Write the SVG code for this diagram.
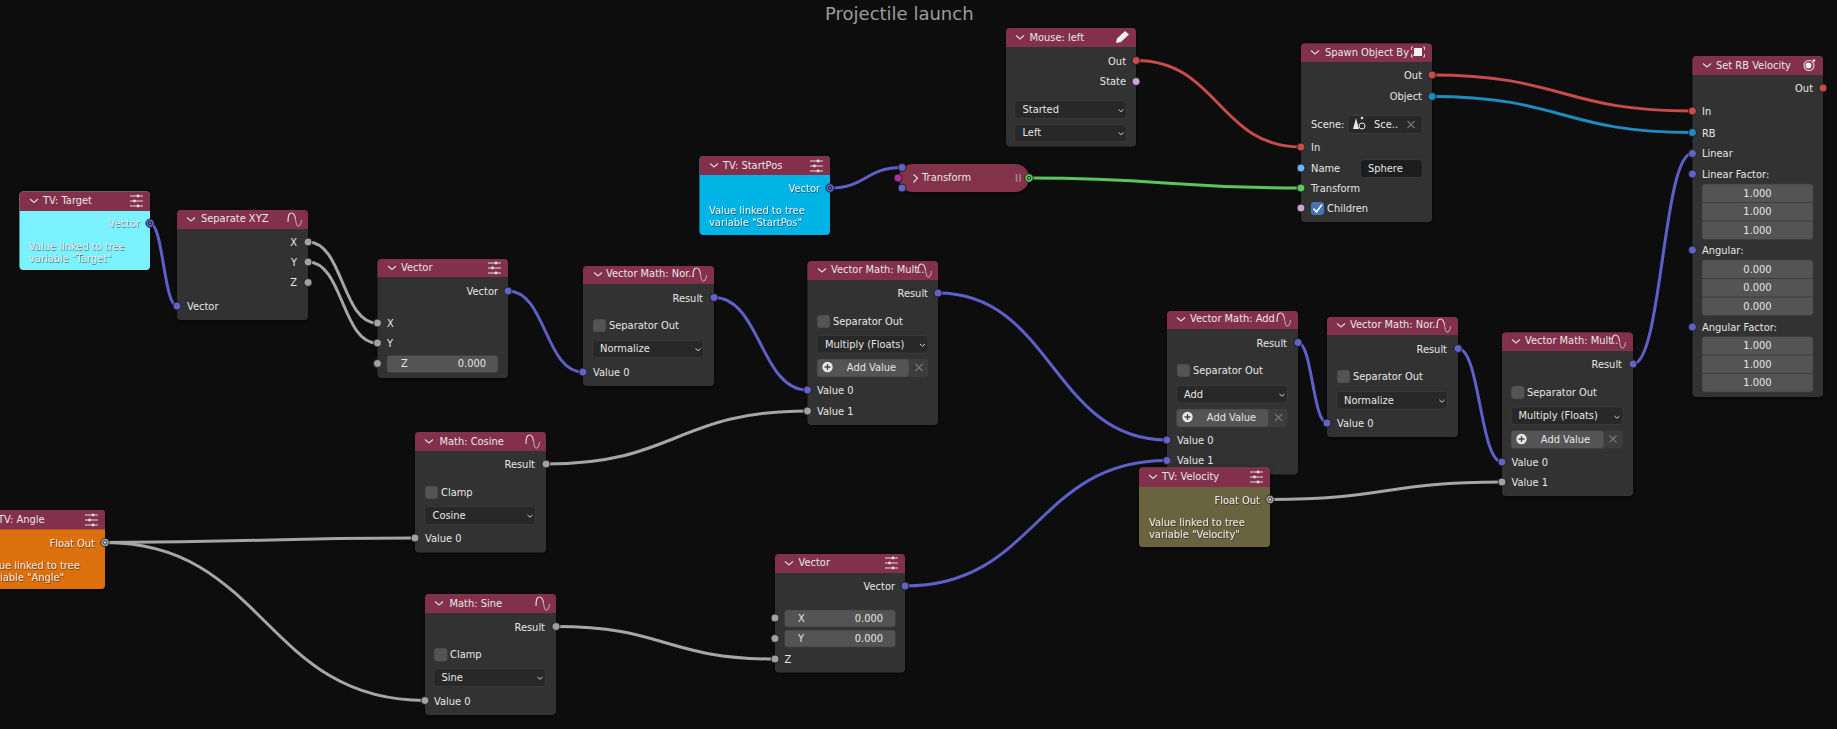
<svg xmlns="http://www.w3.org/2000/svg" width="1837" height="729" viewBox="0 0 1837 729">
<style>
text{font-family:"DejaVu Sans","Liberation Sans",sans-serif;font-size:9.9px;fill:#e6e6e6}
.r{text-anchor:end}.c{text-anchor:middle}
.title{font-size:18px;fill:#9c9c9c}
.body{fill:#303030}
.head{fill:#83304c}
.tv{filter:url(#ts)}
.node{filter:url(#sh)}
.link{fill:none;stroke-width:3;stroke-linecap:round}
.vec{stroke:#5f5fc8}.flt{stroke:#a6a6a6}.red{stroke:#c94b4b}.blu{stroke:#1f8cc0}.grn{stroke:#5cc45c}
.s{stroke:#161616;stroke-width:.8}
.sv{fill:#6363c7}.sf{fill:#a1a1a1}.sr{fill:#c94b4b}.sb{fill:#cca6d6}.ss{fill:#70b2ff}.sg{fill:#5fc75f}.so{fill:#1f8cc0}.sm{fill:#b02fa0}
.dd{fill:#282828;stroke:#3c3c3c;stroke-width:.8}
.fld{fill:#545454;stroke:#3c3c3c;stroke-width:.6}
.chk{fill:#545454;stroke:#3a3a3a;stroke-width:.6}
.x2{fill:#3d3d3d}
.ic{fill:none;stroke:#e6dade;stroke-width:1.1}
.cv{fill:none;stroke:#d8d8d8;stroke-width:1.2}
.cvd{fill:none;stroke:#cfcfcf;stroke-width:1}
</style>
<defs>
<filter id="sh" x="-10%" y="-10%" width="120%" height="120%"><feDropShadow dx="0" dy="1" stdDeviation="2" flood-color="#000" flood-opacity=".55"/></filter>
<filter id="ts" x="-5%" y="-20%" width="110%" height="140%"><feDropShadow dx=".5" dy=".8" stdDeviation=".5" flood-color="#000" flood-opacity=".55"/></filter>
<path id="chev" class="cv" d="M-4-1.5 0 2 4-1.5"/>
<path id="cvs" class="cvd" d="M-2.5-1 0 1.2 2.5-1"/>
<g id="wave" class="ic"><path d="M0 9C0 2 1 0 3.500 0S7 3 7.500 6"/><path d="M7.500 6C8 12 9.500 13.500 11 13S13.500 9 13.500 7" stroke="#b89ca6"/></g>
<g id="sld" class="ic"><path d="M0 1H13M0 6H13M0 11H13"/><circle cx="8" cy="1" r="1.400" fill="#e6dade" stroke="none"/><circle cx="4.500" cy="6" r="1.400" fill="#e6dade" stroke="none"/><circle cx="8" cy="11" r="1.400" fill="#e6dade" stroke="none"/></g>
<g id="plus"><circle r="5.200" fill="#e8e8e8"/><path d="M-3 0H3M0-3V3" stroke="#444" stroke-width="1.300"/></g>
<path id="xx" d="M-3.500-3.500 3.500 3.500M3.500-3.500-3.500 3.500" fill="none" stroke="#777" stroke-width="1.100"/>
</defs>
<rect width="1837" height="729" fill="#0d0d0d"/>
<text class="title" x="825" y="20">Projectile launch</text>

<g id="connectors">
<path class="link vec" d="M150 223.300C163 223.300 164 306 177 306"/>
<path class="link flt" d="M308 242C343 242 342 323 377 323"/>
<path class="link flt" d="M308 262C343 262 342 343 377 343"/>
<path class="link vec" d="M508 291C546 291 545 372 583 372"/>
<path class="link vec" d="M714 297.500C760 297.500 761 390 807 390"/>
<path class="link flt" d="M546 464C676 464 677 411 807 411"/>
<path class="link flt" d="M105 542.500C260 542.500 260 538 415 538"/>
<path class="link flt" d="M105 542.500C265 542.500 265 700.500 425 700.500"/>
<path class="link flt" d="M556 626.500C665 626.500 666 659 775 659"/>
<path class="link vec" d="M905 586C1036 586 1036 460.500 1167 460.500"/>
<path class="link vec" d="M938 293C1052 293 1053 440 1167 440"/>
<path class="link vec" d="M1298 342.500C1312 342.500 1313 423 1327 423"/>
<path class="link vec" d="M1458 348.500C1480 348.500 1480 462 1502 462"/>
<path class="link flt" d="M1270 499.500C1386 499.500 1386 482 1502 482"/>
<path class="link vec" d="M1633 364C1662 364 1663 153.500 1692 153.500"/>
<path class="link red" d="M1432 75C1562 75 1562 111 1692 111"/>
<path class="link blu" d="M1432 96.500C1562 96.500 1562 132.500 1692 132.500"/>
<path class="link red" d="M1136 60.500C1218 60.500 1219 147 1301 147"/>
<path class="link grn" d="M1029 178C1165 178 1165 188 1301 188"/>
<path class="link vec" d="M830 188C866 188 866 167.500 902 167.500"/>
</g>

<g id="tv-target">
<rect class="node" x="19.500" y="191.500" width="130.500" height="78.500" rx="4" fill="#7af2ff"/>
<path class="head" d="M19.500 211V195.500a4 4 0 0 1 4-4H146a4 4 0 0 1 4 4V211Z"/>
<use href="#chev" x="34" y="200.500"/><text x="43" y="203.500">TV: Target</text><use href="#sld" x="130" y="195"/>
<g class="tv"><text class="r" x="140" y="227">Vector</text><text x="29" y="249.500">Value linked to tree</text><text x="29" y="261.500">variable "Target"</text></g>
<circle class="s sv" cx="150" cy="223.300" r="4.200"/><circle class="s sv" cx="150" cy="223.300" r="1.700"/>
</g>

<g id="separate-xyz">
<rect class="node body" x="177" y="210" width="131" height="110" rx="4"/>
<path class="head" d="M177 229V214a4 4 0 0 1 4-4H304a4 4 0 0 1 4 4V229Z"/>
<use href="#chev" x="191" y="219"/><text x="201" y="222">Separate XYZ</text><use href="#wave" x="288" y="213"/>
<text class="r" x="297" y="246">X</text><text class="r" x="297" y="266">Y</text><text class="r" x="297" y="286">Z</text><text x="187" y="310">Vector</text>
<circle class="s sf" cx="308" cy="242" r="4"/><circle class="s sf" cx="308" cy="262" r="4"/><circle class="s sf" cx="308" cy="282.500" r="4"/><circle class="s sv" cx="177" cy="306" r="4"/>
</g>

<g id="vector-1">
<rect class="node body" x="377.500" y="259" width="130.500" height="119" rx="4"/>
<path class="head" d="M377.500 277V263a4 4 0 0 1 4-4H504a4 4 0 0 1 4 4V277Z"/>
<use href="#chev" x="392" y="267.500"/><text x="401" y="270.500">Vector</text><use href="#sld" x="488" y="262"/>
<text class="r" x="498" y="295">Vector</text><text x="387" y="327">X</text><text x="387" y="347">Y</text>
<rect class="fld" x="387" y="355.500" width="111" height="17" rx="3"/><text x="401" y="367">Z</text><text class="r" x="486" y="367">0.000</text>
<circle class="s sv" cx="508" cy="291" r="4"/><circle class="s sf" cx="377.500" cy="323" r="4"/><circle class="s sf" cx="377.500" cy="343" r="4"/><circle class="s sf" cx="377.500" cy="363.500" r="4"/>
</g>

<g id="vm-normalize-1">
<rect class="node body" x="583" y="266" width="131" height="120" rx="4"/>
<path class="head" d="M583 284V270a4 4 0 0 1 4-4H710a4 4 0 0 1 4 4V284Z"/>
<use href="#chev" x="598" y="274"/><text x="606" y="277">Vector Math: Nor..</text><use href="#wave" x="693" y="268"/>
<text class="r" x="703" y="301.500">Result</text>
<rect class="chk" x="593" y="319" width="13" height="13" rx="3"/><text x="609" y="329">Separator Out</text>
<rect class="dd" x="592.500" y="340.500" width="111" height="17" rx="3"/><text x="600" y="352">Normalize</text><use href="#cvs" x="698" y="349.500"/>
<text x="593" y="376">Value 0</text>
<circle class="s sv" cx="714" cy="297.500" r="4"/><circle class="s sv" cx="583" cy="372" r="4"/>
</g>

<g id="vm-multiply-1">
<rect class="node body" x="807.500" y="261" width="130.500" height="164" rx="4"/>
<path class="head" d="M807.500 280V265a4 4 0 0 1 4-4H934a4 4 0 0 1 4 4V280Z"/>
<use href="#chev" x="822" y="270"/><text x="831" y="273">Vector Math: Mult..</text><use href="#wave" x="918" y="264"/>
<text class="r" x="928" y="297">Result</text>
<rect class="chk" x="817" y="315" width="13" height="13" rx="3"/><text x="833" y="325">Separator Out</text>
<rect class="dd" x="817" y="335.500" width="111" height="17.500" rx="3"/><text x="825" y="347.500">Multiply (Floats)</text><use href="#cvs" x="922.500" y="345"/>
<rect class="x2" x="817" y="359" width="111" height="18" rx="3"/><rect class="fld" x="817" y="359" width="92" height="18" rx="3" stroke="none"/><use href="#plus" x="827.500" y="367"/><text class="c" x="871.500" y="370.500">Add Value</text><use href="#xx" x="919" y="367.500"/>
<text x="817" y="394">Value 0</text><text x="817" y="415">Value 1</text>
<circle class="s sv" cx="938" cy="293" r="4"/><circle class="s sv" cx="807.500" cy="390" r="4"/><circle class="s sf" cx="807.500" cy="411" r="4"/>
</g>

<g id="math-cosine">
<rect class="node body" x="415" y="432" width="131" height="120.500" rx="4"/>
<path class="head" d="M415 451V436a4 4 0 0 1 4-4H542a4 4 0 0 1 4 4V451Z"/>
<use href="#chev" x="429" y="441"/><text x="439.500" y="444.500">Math: Cosine</text><use href="#wave" x="526" y="435"/>
<text class="r" x="535" y="468">Result</text>
<rect class="chk" x="425" y="486" width="13" height="13" rx="3"/><text x="441" y="496">Clamp</text>
<rect class="dd" x="424.500" y="506.500" width="111" height="18" rx="3"/><text x="432.500" y="519">Cosine</text><use href="#cvs" x="530" y="516"/>
<text x="425" y="542">Value 0</text>
<circle class="s sf" cx="546" cy="464" r="4"/><circle class="s sf" cx="415" cy="538" r="4"/>
</g>

<g id="tv-angle">
<rect class="node" x="-26" y="510" width="131" height="79" rx="4" fill="#dc6f10"/>
<path class="head" d="M-26 529.500V514a4 4 0 0 1 4-4H101a4 4 0 0 1 4 4V529.500Z"/>
<text x="-2" y="523">TV: Angle</text><use href="#sld" x="85" y="514"/>
<g class="tv"><text class="r" x="95" y="546.500">Float Out</text><text x="-16" y="568.500">Value linked to tree</text><text x="-16" y="580.500">variable "Angle"</text></g>
<circle class="s sf" cx="105" cy="542.500" r="4.200"/><circle class="s" cx="105" cy="542.500" r="1.700" fill="#ddd"/>
</g>

<g id="math-sine">
<rect class="node body" x="425" y="594" width="131" height="121" rx="4"/>
<path class="head" d="M425 613V598a4 4 0 0 1 4-4H552a4 4 0 0 1 4 4V613Z"/>
<use href="#chev" x="439" y="603"/><text x="449.500" y="606.500">Math: Sine</text><use href="#wave" x="536" y="597"/>
<text class="r" x="545" y="630.500">Result</text>
<rect class="chk" x="434" y="648" width="13.500" height="13.500" rx="3"/><text x="450" y="658">Clamp</text>
<rect class="dd" x="433.500" y="668.500" width="112" height="18" rx="3"/><text x="441.500" y="681">Sine</text><use href="#cvs" x="540" y="678"/>
<text x="434" y="704.500">Value 0</text>
<circle class="s sf" cx="556" cy="626.500" r="4"/><circle class="s sf" cx="425" cy="700.500" r="4"/>
</g>

<g id="vector-2">
<rect class="node body" x="775" y="554" width="130" height="118.500" rx="4"/>
<path class="head" d="M775 573V558a4 4 0 0 1 4-4H901a4 4 0 0 1 4 4V573Z"/>
<use href="#chev" x="789" y="563"/><text x="798.500" y="565.500">Vector</text><use href="#sld" x="885" y="557"/>
<text class="r" x="895" y="590">Vector</text>
<rect class="fld" x="784.500" y="610" width="111" height="17" rx="3"/><text x="798" y="621.500">X</text><text class="r" x="883" y="621.500">0.000</text>
<rect class="fld" x="784.500" y="630" width="111" height="17" rx="3"/><text x="798" y="641.500">Y</text><text class="r" x="883" y="641.500">0.000</text>
<text x="784.500" y="662.500">Z</text>
<circle class="s sv" cx="905" cy="586" r="4"/><circle class="s sf" cx="775" cy="618" r="4"/><circle class="s sf" cx="775" cy="638.500" r="4"/><circle class="s sf" cx="775" cy="659" r="4"/>
</g>

<g id="vm-add">
<rect class="node body" x="1167" y="311" width="131" height="163.500" rx="4"/>
<path class="head" d="M1167 329V315a4 4 0 0 1 4-4H1294a4 4 0 0 1 4 4V329Z"/>
<use href="#chev" x="1181" y="319"/><text x="1190" y="322">Vector Math: Add</text><use href="#wave" x="1277" y="313"/>
<text class="r" x="1287" y="346.500">Result</text>
<rect class="chk" x="1177" y="364" width="13" height="13" rx="3"/><text x="1193" y="374">Separator Out</text>
<rect class="dd" x="1176.500" y="385.500" width="111" height="17.500" rx="3"/><text x="1184" y="398">Add</text><use href="#cvs" x="1282" y="395"/>
<rect class="x2" x="1176.500" y="409" width="111" height="18" rx="3"/><rect class="fld" x="1176.500" y="409" width="92" height="18" rx="3" stroke="none"/><use href="#plus" x="1187.500" y="417"/><text class="c" x="1231.500" y="420.500">Add Value</text><use href="#xx" x="1278.500" y="417.500"/>
<text x="1177" y="444">Value 0</text><text x="1177" y="464">Value 1</text>
<circle class="s sv" cx="1298" cy="342.500" r="4"/><circle class="s sv" cx="1167" cy="440" r="4"/><circle class="s sv" cx="1167" cy="460.500" r="4"/>
</g>

<g id="tv-velocity">
<rect class="node" x="1139" y="467.500" width="131" height="79.500" rx="4" fill="#6a6340"/>
<path class="head" d="M1139 487V471.500a4 4 0 0 1 4-4H1266a4 4 0 0 1 4 4V487Z"/>
<use href="#chev" x="1153" y="476.500"/><text x="1162" y="480">TV: Velocity</text><use href="#sld" x="1250" y="471"/>
<g class="tv"><text class="r" x="1260" y="503.500">Float Out</text><text x="1149" y="525.500">Value linked to tree</text><text x="1149" y="537.500">variable "Velocity"</text></g>
<circle class="s sf" cx="1270" cy="499.500" r="4.200"/><circle class="s" cx="1270" cy="499.500" r="1.700" fill="#ddd"/>
</g>

<g id="vm-normalize-2">
<rect class="node body" x="1327" y="317" width="131" height="120" rx="4"/>
<path class="head" d="M1327 335V321a4 4 0 0 1 4-4H1454a4 4 0 0 1 4 4V335Z"/>
<use href="#chev" x="1341" y="325"/><text x="1350" y="328">Vector Math: Nor..</text><use href="#wave" x="1437" y="319"/>
<text class="r" x="1447" y="352.500">Result</text>
<rect class="chk" x="1337" y="370" width="13" height="13" rx="3"/><text x="1353" y="380">Separator Out</text>
<rect class="dd" x="1336.500" y="391.500" width="111" height="17.500" rx="3"/><text x="1344" y="404">Normalize</text><use href="#cvs" x="1442" y="401"/>
<text x="1337" y="427">Value 0</text>
<circle class="s sv" cx="1458" cy="348.500" r="4"/><circle class="s sv" cx="1327" cy="423" r="4"/>
</g>

<g id="vm-multiply-2">
<rect class="node body" x="1502" y="332.500" width="131" height="163.500" rx="4"/>
<path class="head" d="M1502 351V336.500a4 4 0 0 1 4-4H1629a4 4 0 0 1 4 4V351Z"/>
<use href="#chev" x="1516" y="341"/><text x="1525" y="344">Vector Math: Mult..</text><use href="#wave" x="1612" y="335"/>
<text class="r" x="1622" y="368">Result</text>
<rect class="chk" x="1511" y="386" width="13.500" height="13" rx="3"/><text x="1527" y="396">Separator Out</text>
<rect class="dd" x="1511" y="407" width="112" height="17.500" rx="3"/><text x="1518.500" y="419">Multiply (Floats)</text><use href="#cvs" x="1617" y="417"/>
<rect class="x2" x="1511" y="430.500" width="112" height="18" rx="3"/><rect class="fld" x="1511" y="430.500" width="93" height="18" rx="3" stroke="none"/><use href="#plus" x="1521.500" y="439"/><text class="c" x="1565.500" y="443">Add Value</text><use href="#xx" x="1613" y="439"/>
<text x="1511.500" y="466">Value 0</text><text x="1511.500" y="486">Value 1</text>
<circle class="s sv" cx="1633" cy="364" r="4"/><circle class="s sv" cx="1502" cy="462" r="4"/><circle class="s sf" cx="1502" cy="482" r="4"/>
</g>

<g id="tv-startpos">
<rect class="node" x="699.500" y="156" width="130.500" height="79" rx="4" fill="#00b4e6"/>
<path class="head" d="M699.500 175V160a4 4 0 0 1 4-4H826a4 4 0 0 1 4 4V175Z"/>
<use href="#chev" x="714" y="165"/><text x="723" y="168.500">TV: StartPos</text><use href="#sld" x="810" y="160"/>
<g class="tv"><text class="r" x="820" y="192">Vector</text><text x="709" y="214">Value linked to tree</text><text x="709" y="226">variable "StartPos"</text></g>
<circle class="s sv" cx="830" cy="188" r="4.200"/><circle class="s sv" cx="830" cy="188" r="1.700"/>
</g>

<g id="transform">
<rect class="node head" x="899" y="164" width="130" height="28" rx="14"/>
<path class="cv" d="M913.500 174.500 917.500 178 913.500 182.500"/><text x="922" y="181">Transform</text>
<path d="M1016.500 174V182M1020 174V182" stroke="#a87a8a" stroke-width="1.600"/>
<circle class="s sv" cx="902" cy="167.500" r="4"/><circle class="s sm" cx="898" cy="178" r="4"/><circle class="s sv" cx="902" cy="188" r="4"/>
<circle class="s sg" cx="1029" cy="178" r="4.200"/><circle class="s sg" cx="1029" cy="178" r="1.700"/>
</g>

<g id="mouse-left">
<rect class="node body" x="1006" y="28" width="130" height="118.500" rx="4"/>
<path class="head" d="M1006 47V32a4 4 0 0 1 4-4H1132a4 4 0 0 1 4 4V47Z"/>
<use href="#chev" x="1020" y="37"/><text x="1029.500" y="40.500">Mouse: left</text>
<path d="M1116 43 1117 38.500 1125 31 1129 34.500 1121 42Z" fill="#f0f0f0"/>
<text class="r" x="1126" y="64.500">Out</text><text class="r" x="1126" y="84.500">State</text>
<rect class="dd" x="1014.500" y="100.500" width="112" height="18" rx="3"/><text x="1022.500" y="113">Started</text><use href="#cvs" x="1121" y="110.500"/>
<rect class="dd" x="1014.500" y="124.500" width="112" height="17.500" rx="3"/><text x="1022.500" y="136">Left</text><use href="#cvs" x="1121" y="133.500"/>
<circle class="s sr" cx="1136" cy="60.500" r="4"/><circle class="s sb" cx="1136" cy="81.500" r="4"/>
</g>

<g id="spawn-object">
<rect class="node body" x="1301" y="43.500" width="131" height="178.500" rx="4"/>
<path class="head" d="M1301 62V47.500a4 4 0 0 1 4-4H1428a4 4 0 0 1 4 4V62Z"/>
<use href="#chev" x="1315" y="52"/><text x="1325" y="56">Spawn Object By .</text>
<rect x="1414" y="48" width="8" height="8" fill="#f0f0f0"/><path d="M1413 47H1411.500V50M1423 47H1424.500V50M1413 57H1411.500V54M1423 57H1424.500V54" fill="none" stroke="#e6dade" stroke-width=".9"/>
<text class="r" x="1422" y="79">Out</text><text class="r" x="1422" y="99.500">Object</text>
<text x="1311" y="128">Scene:</text>
<rect class="dd" x="1348" y="115.500" width="74.500" height="18" rx="3"/>
<path d="M1353 129 1356 118 1359 129Z" fill="#e6e6e6"/><circle cx="1362" cy="118" r="1.300" fill="#e6e6e6"/><circle cx="1362" cy="126" r="3" fill="none" stroke="#e6e6e6"/>
<text x="1374" y="128">Sce..</text><use href="#xx" x="1411" y="124.500"/>
<text x="1311" y="151">In</text><text x="1311" y="172">Name</text>
<rect x="1360.500" y="159.500" width="62" height="18" rx="3" fill="#1d1d1d" stroke="#3c3c3c" stroke-width=".8"/><text x="1368" y="172">Sphere</text>
<text x="1311" y="192">Transform</text>
<rect x="1311" y="202" width="13" height="13" rx="3" fill="#4772b3"/><path d="M1313.500 208.500 1316.500 212 1322 204.500" fill="none" stroke="#fff" stroke-width="1.500"/><text x="1327" y="212">Children</text>
<circle class="s sr" cx="1432" cy="75" r="4"/><circle class="s so" cx="1432" cy="96.500" r="4"/><circle class="s sr" cx="1301" cy="147" r="4"/><circle class="s ss" cx="1301" cy="168" r="4"/><circle class="s sg" cx="1301" cy="188" r="4"/><circle class="s sb" cx="1301" cy="208" r="4"/>
</g>

<g id="set-rb-velocity">
<rect class="node body" x="1692.500" y="56" width="130.500" height="341" rx="4"/>
<path class="head" d="M1692.500 75V60a4 4 0 0 1 4-4H1819a4 4 0 0 1 4 4V75Z"/>
<use href="#chev" x="1707" y="65"/><text x="1716" y="69">Set RB Velocity</text>
<circle cx="1809" cy="65.500" r="5" fill="none" stroke="#e6dade" stroke-width="1.100"/><circle cx="1808.500" cy="65.500" r="3" fill="#eee"/><circle cx="1814" cy="60.500" r="1.200" fill="#eee"/>
<text class="r" x="1813" y="92">Out</text><text x="1702" y="115">In</text><text x="1702" y="136.500">RB</text><text x="1702" y="157">Linear</text><text x="1702" y="178">Linear Factor:</text>
<rect class="fld" x="1702" y="184" width="111" height="55.500" rx="3"/><path d="M1702 202.500H1813M1702 221H1813" stroke="#3c3c3c"/>
<text class="c" x="1757.500" y="196.500">1.000</text><text class="c" x="1757.500" y="215">1.000</text><text class="c" x="1757.500" y="233.500">1.000</text>
<text x="1702" y="253.500">Angular:</text>
<rect class="fld" x="1702" y="260" width="111" height="55.500" rx="3"/><path d="M1702 278.500H1813M1702 297H1813" stroke="#3c3c3c"/>
<text class="c" x="1757.500" y="272.500">0.000</text><text class="c" x="1757.500" y="291">0.000</text><text class="c" x="1757.500" y="309.500">0.000</text>
<text x="1702" y="331">Angular Factor:</text>
<rect class="fld" x="1702" y="336.500" width="111" height="55.500" rx="3"/><path d="M1702 355H1813M1702 373.500H1813" stroke="#3c3c3c"/>
<text class="c" x="1757.500" y="349">1.000</text><text class="c" x="1757.500" y="367.500">1.000</text><text class="c" x="1757.500" y="386">1.000</text>
<circle class="s sr" cx="1823" cy="88" r="4"/><circle class="s sr" cx="1692.500" cy="111" r="4"/><circle class="s so" cx="1692.500" cy="132.500" r="4"/><circle class="s sv" cx="1692.500" cy="153.500" r="4"/><circle class="s sv" cx="1692.500" cy="174" r="4"/><circle class="s sv" cx="1692.500" cy="250" r="4"/><circle class="s sv" cx="1692.500" cy="327" r="4"/>
</g>
</svg>
